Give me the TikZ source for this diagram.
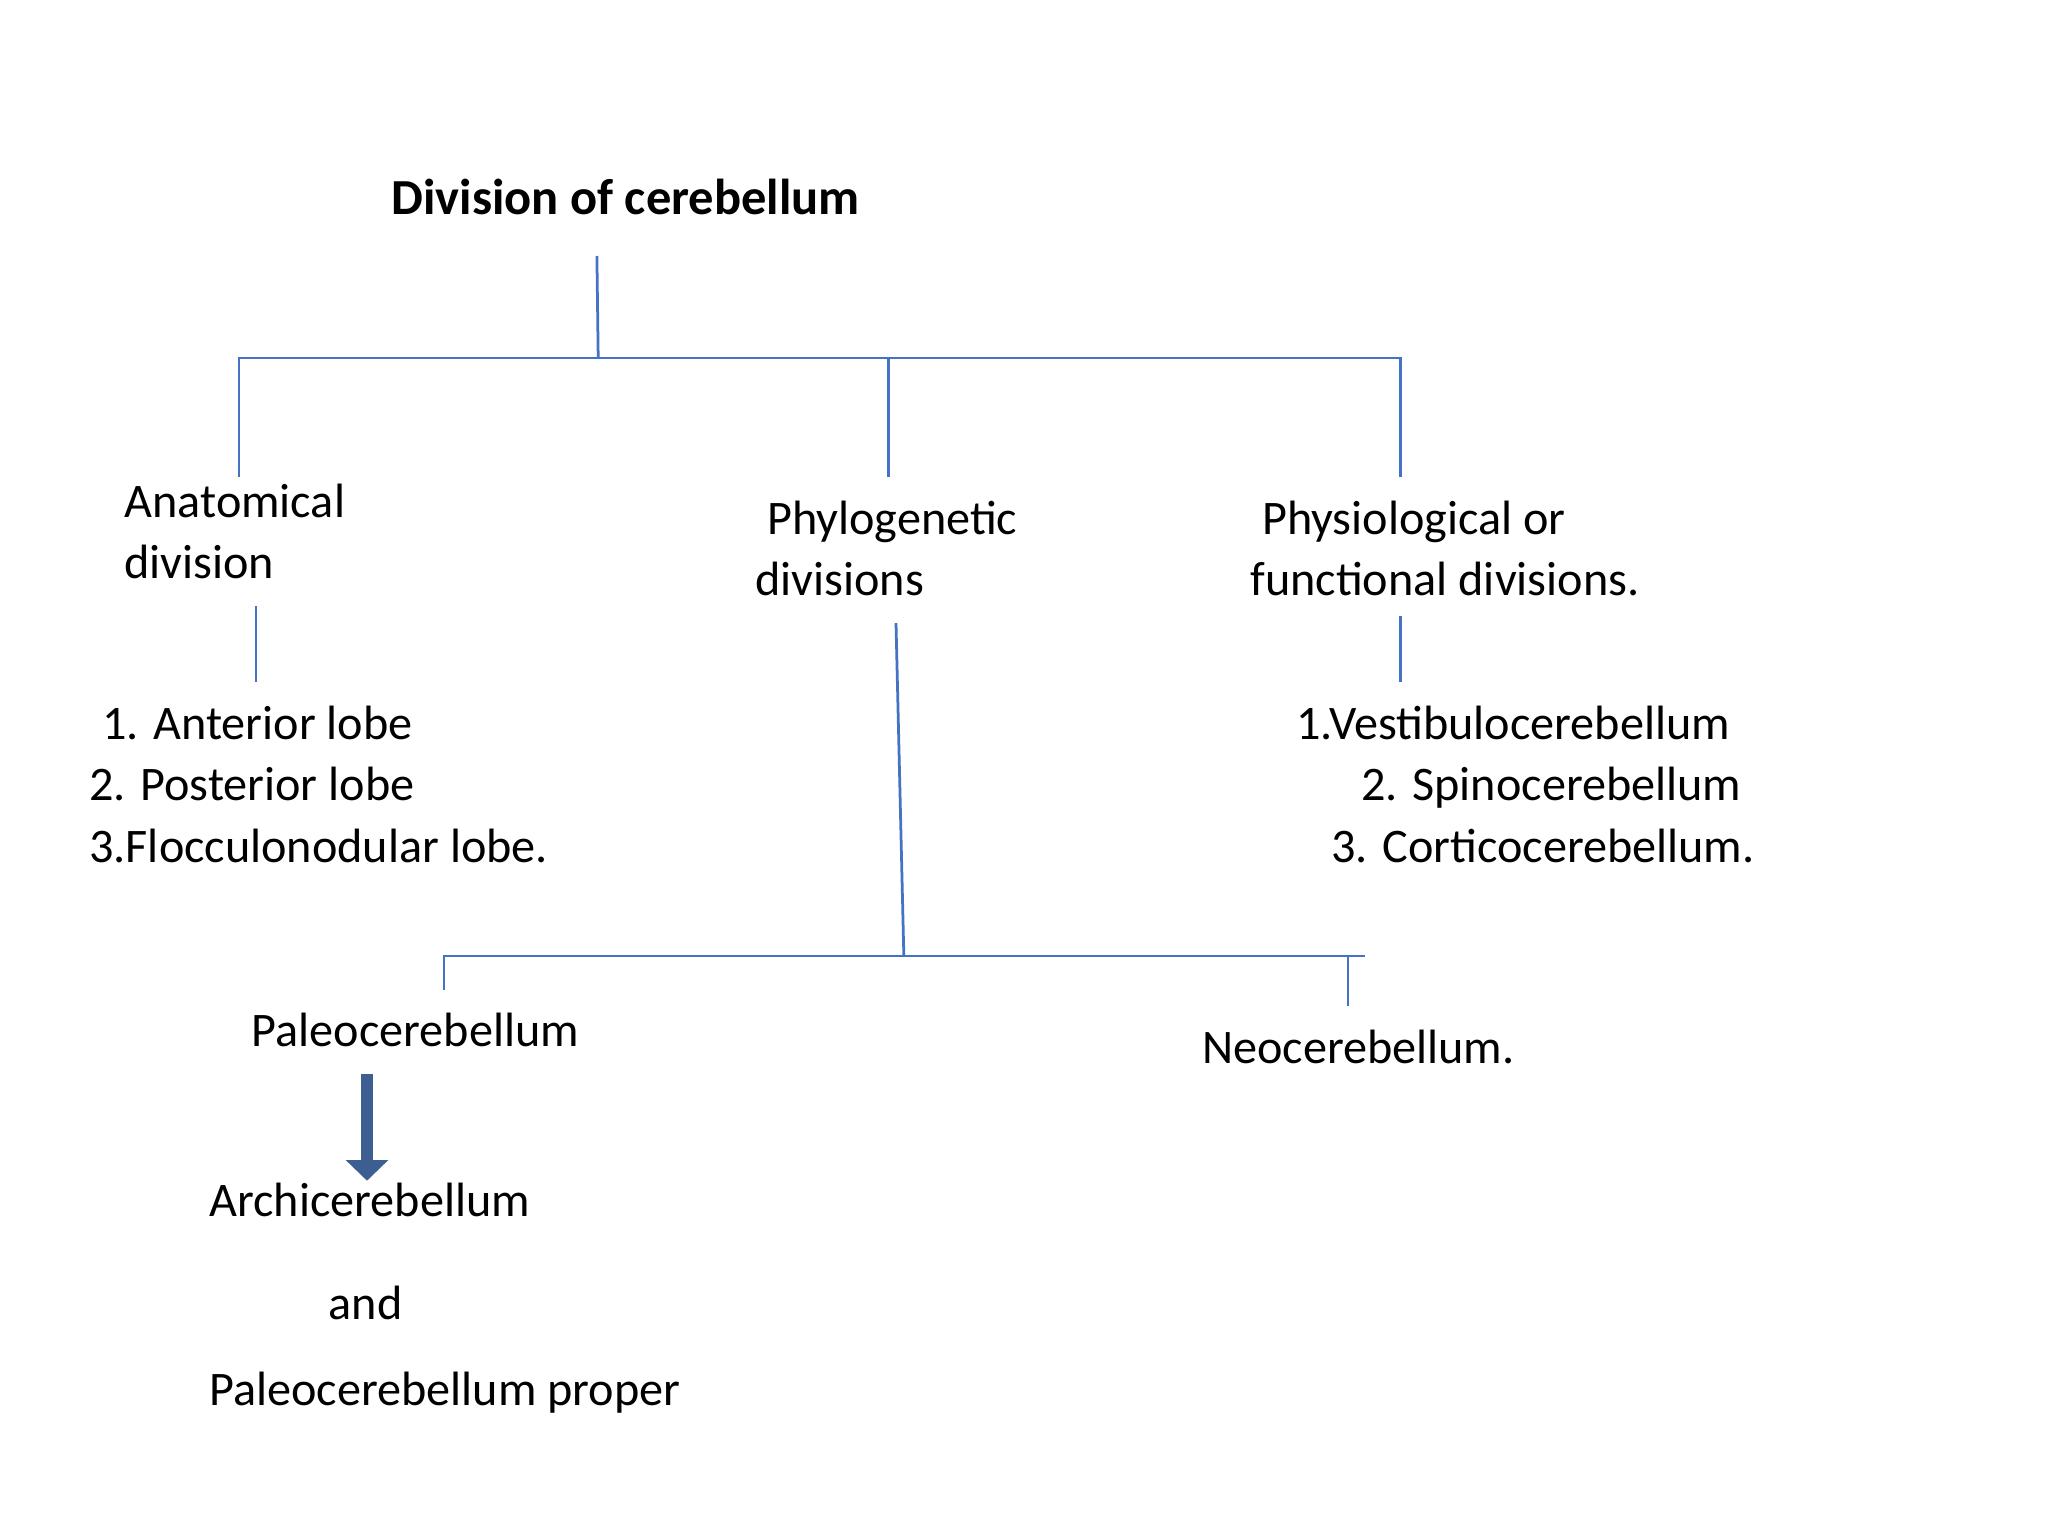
\documentclass[tikz,border=0pt]{standalone}
\usepackage{fontspec}
\setmainfont{Carlito}
\usetikzlibrary{arrows.meta}
\begin{document}
\begin{tikzpicture}[x=0.02cm,y=-0.02cm,
  ln/.style={draw=blue!45!black!60!cyan!80, color={rgb,255:red,68;green,114;blue,196}, line width=1.2pt},
  tx/.style={font=\fontsize{21}{24}\selectfont, inner sep=0pt, anchor=base west},
  txc/.style={font=\fontsize{21}{24}\selectfont, inner sep=0pt, anchor=base}]
\useasboundingbox (0,0) rectangle (1568,1176);
\node[font=\fontsize{22}{26}\selectfont\bfseries, inner sep=0pt, anchor=base] (title) at (479,164) {Division of cerebellum};
\coordinate (t0) at (457,196);
\coordinate (t1) at (458,274);
\coordinate (hl) at (183,274);
\coordinate (hm) at (680,274);
\coordinate (hr) at (1072,274);
\coordinate (al) at (183,365);
\coordinate (am) at (680,365);
\coordinate (ar) at (1072,365);
\draw[ln] (t0) -- (t1);
\draw[ln] (al) -- (hl) -- (hr) -- (ar);
\draw[ln] (hm) -- (am);
\node[tx] (an1) at (95,396) {Anatomical};
\node[tx] (an2) at (95,443) {division};
\coordinate (a1) at (196,464); \coordinate (a2) at (196,522);
\draw[ln] (a1) -- (a2);
\node[tx] (l1) at (78,566) {1. Anterior lobe};
\node[tx] (l2) at (68,613) {2. Posterior lobe};
\node[tx] (l3) at (68,660) {3.Flocculonodular lobe.};
\node[tx] (ph1) at (587,409) {Phylogenetic};
\node[tx] (ph2) at (578,456) {divisions};
\coordinate (p1) at (686,477); \coordinate (p2) at (692,732);
\draw[ln] (p1) -- (p2);
\coordinate (q1) at (340,758); \coordinate (q2) at (340,732);
\coordinate (q3) at (1045,732); \coordinate (q4) at (1032,732); \coordinate (q5) at (1032,770);
\draw[ln] (q1) -- (q2) -- (q3);
\draw[ln] (q4) -- (q5);
\node[txc] (paleo) at (318,801) {Paleocerebellum};
\node[txc] (neo) at (1040,814) {Neocerebellum.};
\coordinate (ar1) at (281,822); \coordinate (ar2) at (281,904);
\draw[line width=5pt, draw={rgb,255:red,61;green,94;blue,145}, -{Triangle[length=9pt,width=18pt]}] (ar1) -- (ar2);
\node[tx] (archi) at (160,931) {Archicerebellum};
\node[txc] (and) at (280,1010) {and};
\node[tx] (pp) at (160,1076) {Paleocerebellum proper};
\node[tx] (fy1) at (966,409) {Physiological or};
\node[tx] (fy2) at (957,456) {functional divisions.};
\coordinate (f1) at (1072,472); \coordinate (f2) at (1072,522);
\draw[ln] (f1) -- (f2);
\node[tx] (v1) at (992,566) {1.Vestibulocerebellum};
\node[tx] (v2) at (1042,613) {2. Spinocerebellum};
\node[tx] (v3) at (1019,660) {3. Corticocerebellum.};
\end{tikzpicture}
\end{document}
